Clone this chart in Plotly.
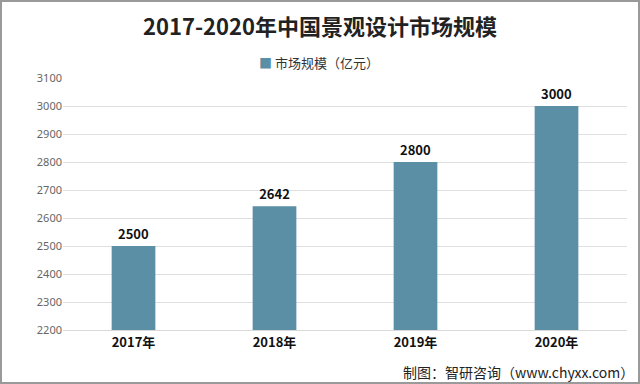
import plotly.graph_objects as go

years = ["2017年", "2018年", "2019年", "2020年"]
values = [2500, 2642, 2800, 3000]
y_ticks = [2200, 2300, 2400, 2500, 2600, 2700, 2800, 2900, 3000, 3100]
series_name = "市场规模（亿元）"
title_text = "2017-2020年中国景观设计市场规模"
source_text = "制图：智研咨询（www.chyxx.com）"
bar_color = "#5b8fa6"

fig = go.Figure()
fig.add_trace(go.Bar(
    x=years, y=values, name=series_name,
    marker=dict(color=bar_color, line=dict(width=0)),
    text=[str(v) for v in values], textposition="outside",
    textfont=dict(family="Noto Sans CJK SC", size=13, color="#111111", weight="bold"),
    cliponaxis=False, showlegend=False, hoverinfo="skip",
))

fig.update_layout(
    width=640, height=384,
    margin=dict(l=63, r=13, t=78, b=54, autoexpand=False),
    paper_bgcolor="white", plot_bgcolor="white",
    bargap=0.69,
    showlegend=False,
    title=dict(text=title_text, x=0.5, xanchor="center", y=1 - 27 / 384, yref="container",
               yanchor="middle",
               font=dict(family="Noto Sans CJK SC", size=22, color="#222222", weight="bold")),
    xaxis=dict(showline=True, linecolor="#d9d9d9", linewidth=1, ticks="",
               tickfont=dict(family="Noto Sans CJK SC", size=13, color="#111111", weight="bold")),
    yaxis=dict(range=[2200, 3100], tickvals=y_ticks, showgrid=True, gridcolor="#e0e0e0",
               zeroline=False, showline=False, ticks="",
               tickfont=dict(family="Noto Sans", size=11, color="#666666")),
)

# legend drawn as text
fig.add_annotation(text=f"<span style='color:{bar_color}'>■</span> {series_name}",
                   xref="paper", yref="paper", x=(319 - 63) / 564, y=1 + (78 - 62) / 252,
                   xanchor="center", yanchor="middle", showarrow=False,
                   font=dict(family="Noto Sans CJK SC", size=13, color="#333333"))

fig.add_annotation(text=source_text, xref="paper", yref="paper", x=1 + 9 / 564,
                   y=-(372 - 330) / 252,
                   xanchor="right", yanchor="middle", showarrow=False,
                   font=dict(family="Noto Sans CJK SC", size=14, color="#222222"))

fig.add_shape(type="rect", xref="paper", yref="paper",
              x0=-62 / 564, x1=1 + 12 / 564, y0=-53 / 252, y1=1 + 77 / 252,
              line=dict(color="#9a9a9a", width=2))

fig.write_html("out.html", config={"displayModeBar": False},
               post_script="document.body.style.margin='0';document.body.style.overflow='hidden';")
